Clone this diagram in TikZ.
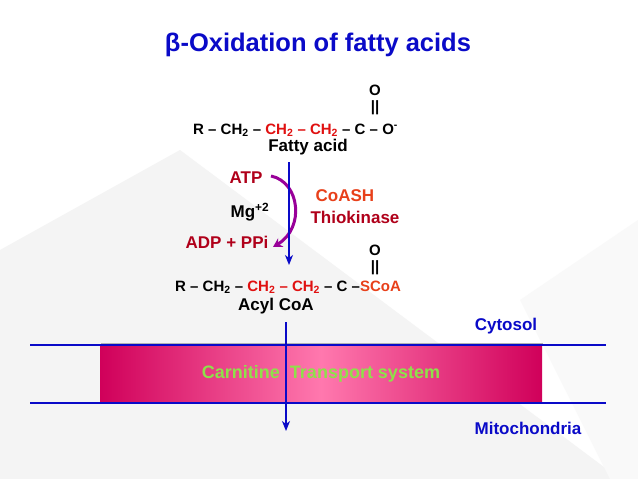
\documentclass[tikz,border=0pt]{standalone}
\usepackage{fontspec}
\setmainfont{Liberation Sans}
\usetikzlibrary{arrows.meta}
\definecolor{dred}{HTML}{B0001A}
\definecolor{ored}{HTML}{E8401A}
\definecolor{rred}{HTML}{E01010}
\definecolor{bblue}{HTML}{0A0AC8}
\definecolor{pedge}{HTML}{D0005A}
\definecolor{pmid}{HTML}{FF78AE}
\definecolor{cgreen}{HTML}{8EE04A}
\tikzset{txt/.style={font=\bfseries\fontsize{17}{20}\selectfont, inner sep=0pt},
 fml/.style={font=\bfseries\fontsize{15}{18}\selectfont, inner sep=0pt},
 mem/.style={bblue, line width=1.2pt}}
\begin{document}
\begin{tikzpicture}[x=1pt,y=-1pt]
\useasboundingbox (0,0) rectangle (638,479);
\fill[white] (0,0) rectangle (638,479);
\fill[gray!9] (0,250) -- (180,150) -- (620,479) -- (0,479) -- cycle;
\fill[gray!5] (520,300) -- (638,220) -- (638,479) -- (610,479) -- cycle;
% title
\node[txt, font=\bfseries\fontsize{25.5}{28}\selectfont, text=bblue, draw=none] (title) at (318,45) {β-Oxidation of fatty acids};
% fatty acid
\node[fml, anchor=base west] (fa) at (193,134) {R – CH\textsubscript{2} – \textcolor{rred}{CH\textsubscript{2} – CH\textsubscript{2}} – C – O\textsuperscript{-}};
\node[fml] (o1) at (375,90) {O};
\node[fml] (d1) at (375,108) {||};
\node[txt] (fal) at (308,147) {Fatty acid};
% reaction
\node[txt, text=dred] (atp) at (246,178) {ATP};
\node[txt] (mg) at (250,212) {Mg\textsuperscript{+2}};
\node[txt, text=dred] (adp) at (227,242) {ADP + PPi};
\node[txt, text=ored] (coash) at (345,196) {CoASH};
\node[txt, text=dred] (thio) at (355,217) {Thiokinase};
\coordinate (c1) at (271,176);
\coordinate (c2) at (273,247);
\draw[violet!80!magenta, line width=3pt, -{Stealth[length=9pt,width=10pt]}] (c1) .. controls (300,182) and (305,228) .. (c2);
\coordinate (a1) at (289,162);
\coordinate (a2) at (289,265);
\draw[bblue, line width=1.3pt, -{Stealth[length=10pt,width=8pt,inset=3pt]}] (a1) -- (a2);
% acyl CoA
\node[fml] (o2) at (375,250) {O};
\node[fml] (d2) at (375,268) {||};
\node[fml, anchor=base west] (ac) at (175,291) {R – CH\textsubscript{2} – \textcolor{rred}{CH\textsubscript{2} – CH\textsubscript{2}} – C –\textcolor{ored}{SCoA}};
\node[txt] (acl) at (276,306) {Acyl CoA};
% membrane
\node[txt, text=bblue] (cyt) at (506,326) {Cytosol};
\node[txt, text=bblue] (mito) at (528,428) {Mitochondria};
\fill[gray!60] (101,343) rectangle (543,346);
\shade[left color=pedge, right color=pedge, middle color=pmid] (100,345) rectangle (542,403);
\coordinate (l1) at (30,345); \coordinate (r1) at (606,345);
\coordinate (l2) at (30,403); \coordinate (r2) at (606,403);
\draw[mem] (l1) -- (r1);
\draw[mem] (l2) -- (r2);
\node[txt, font=\bfseries\fontsize{18}{20}\selectfont, text=cgreen] (carn) at (321,374) {Carnitine \ Transport system};
\coordinate (b1) at (286,322);
\coordinate (b2) at (286,431);
\draw[bblue, line width=1.3pt, -{Stealth[length=10pt,width=8pt,inset=3pt]}] (b1) -- (b2);
\end{tikzpicture}
\end{document}
